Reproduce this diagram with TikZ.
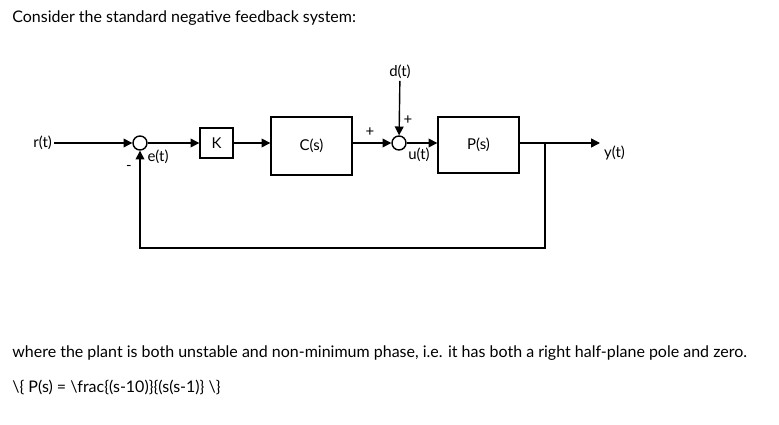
\documentclass[tikz,border=0pt]{standalone}
\usepackage{fontspec}
\setmainfont{Lato}
\usetikzlibrary{arrows.meta}
\tikzset{
	sumj/.style={draw, thick, circle, minimum size=0.28cm, inner sep=0pt},
	lbl/.style={font=\fontsize{8.5}{10}\selectfont, inner sep=1pt},
	txt/.style={font=\fontsize{9.1}{11}\selectfont, anchor=west, inner sep=0pt},
	sig/.style={->, thick, >={Triangle[length=5pt, width=5pt]}}
}
\begin{document}
\begin{tikzpicture}[x=0.02cm, y=-0.02cm]
				\useasboundingbox (0,0) rectangle (779,425);
				
				\node[txt] (title) at (12,18) {Consider the standard negative feedback system:};
				\node[txt] (where) at (12,353) {where the plant is both unstable and non-minimum phase, i.e. it has both a right half-plane pole and zero.};
				\node[txt] (eqn) at (12,387) {\textbackslash\{ P(s) = \textbackslash frac\{(s-10)\}\{(s(s-1)\} \textbackslash\}};
				
				\node[lbl, anchor=east] (r) at (54,143) {r(t)};
				\node[sumj] (s1) at (140,143) {};
				\node[draw, thick, minimum width=0.66cm, minimum height=0.6cm, inner sep=0pt, lbl] (K) at (216.5,143) {K};
				\node[draw, thick, minimum width=1.62cm, minimum height=1.16cm, inner sep=0pt, lbl] (C) at (311.5,146) {C(s)};
				\node[sumj] (s2) at (399,143) {};
				\node[draw, thick, minimum width=1.62cm, minimum height=1.12cm, inner sep=0pt, lbl] (P) at (478.5,145) {P(s)};
				\node[lbl] (d) at (400,72) {d(t)};
				\coordinate (br) at (545,143);
				\coordinate (y) at (600,143);
				\coordinate (fb1) at (545,248);
				\coordinate (fb2) at (140,248);
				
				\node[lbl] (e) at (158,157) {e(t)};
				\node[lbl] (u) at (419,155) {u(t)};
				\node[lbl, anchor=west] (yl) at (602,153) {y(t)};
				\node[lbl] (m) at (129,168) {-};
				\node[lbl] (p1) at (370,132) {+};
				\node[lbl] (p2) at (408,120) {+};
				
				\draw[sig] (r) -- (s1);
				\draw[sig] (s1) -- (K);
				\draw[sig] (K) -- (K -| C.west);
				\draw[sig] (C.east |- s2) -- (s2);
				\draw[sig] (d) -- (s2);
				\draw[sig] (s2) -- (s2 -| P.west);
				\draw[thick] (P.east |- br) -- (br);
				\draw[sig] (br) -- (y);
				\draw[sig] (br) -- (fb1) -- (fb2) -- (s1);
            \end{tikzpicture}
\end{document}
